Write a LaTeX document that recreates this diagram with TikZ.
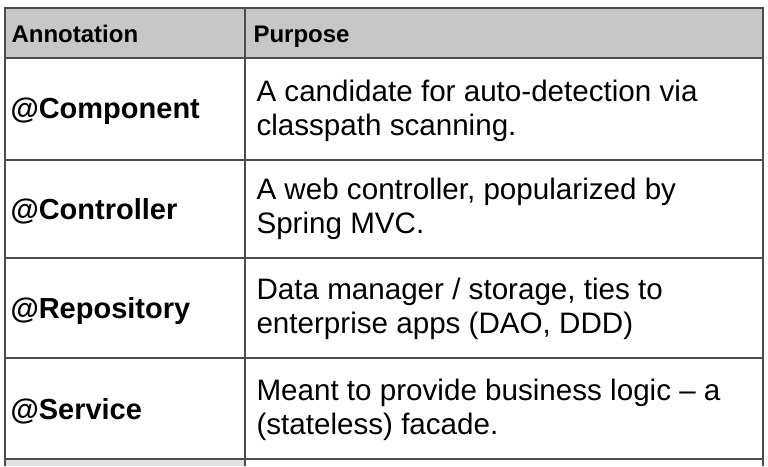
\documentclass[tikz,border=0pt]{standalone}
\usepackage{fontspec}
\setmainfont{Liberation Sans}
\begin{document}
\begin{tikzpicture}[x=1pt,y=-1pt,
  grid/.style={draw=black!70,line width=1.6pt},
  hdr/.style={anchor=base west,font=\bfseries\fontsize{24}{28}\selectfont},
  ann/.style={anchor=west,font=\bfseries\fontsize{29}{32}\selectfont},
  desc/.style={anchor=west,align=left,font=\fontsize{29.6}{34}\selectfont}]
\useasboundingbox (0,0) rectangle (768,466);
\fill[white] (0,0) rectangle (768,466);
\fill[black!22] (5,8) rectangle (763,58);
\fill[black!12] (5,459) rectangle (245,466);
\draw[grid] (5,8) rectangle (763,459);
\foreach \y in {58,160,258,358} \draw[grid] (5,\y) -- (763,\y);
\draw[grid] (245,8) -- (245,466);
\draw[grid] (5,459) -- (5,466);
\draw[grid] (763,459) -- (763,466);
\node[hdr] (h1) at (8,42) {Annotation};
\node[hdr] (h2) at (250,42) {Purpose};
\node[ann] (a1) at (7,111) {@Component};
\node[ann] (a2) at (7,211) {@Controller};
\node[ann] (a3) at (7,311) {@Repository};
\node[ann] (a4) at (7,411) {@Service};
\node[desc] (d1) at (253,111) {A candidate for auto-detection via\\classpath scanning.};
\node[desc] (d2) at (253,209) {A web controller, popularized by\\Spring MVC.};
\node[desc] (d3) at (253,309) {Data manager / storage, ties to\\enterprise apps (DAO, DDD)};
\node[desc] (d4) at (253,410) {Meant to provide business logic – a\\(stateless) facade.};
\end{tikzpicture}
\end{document}
